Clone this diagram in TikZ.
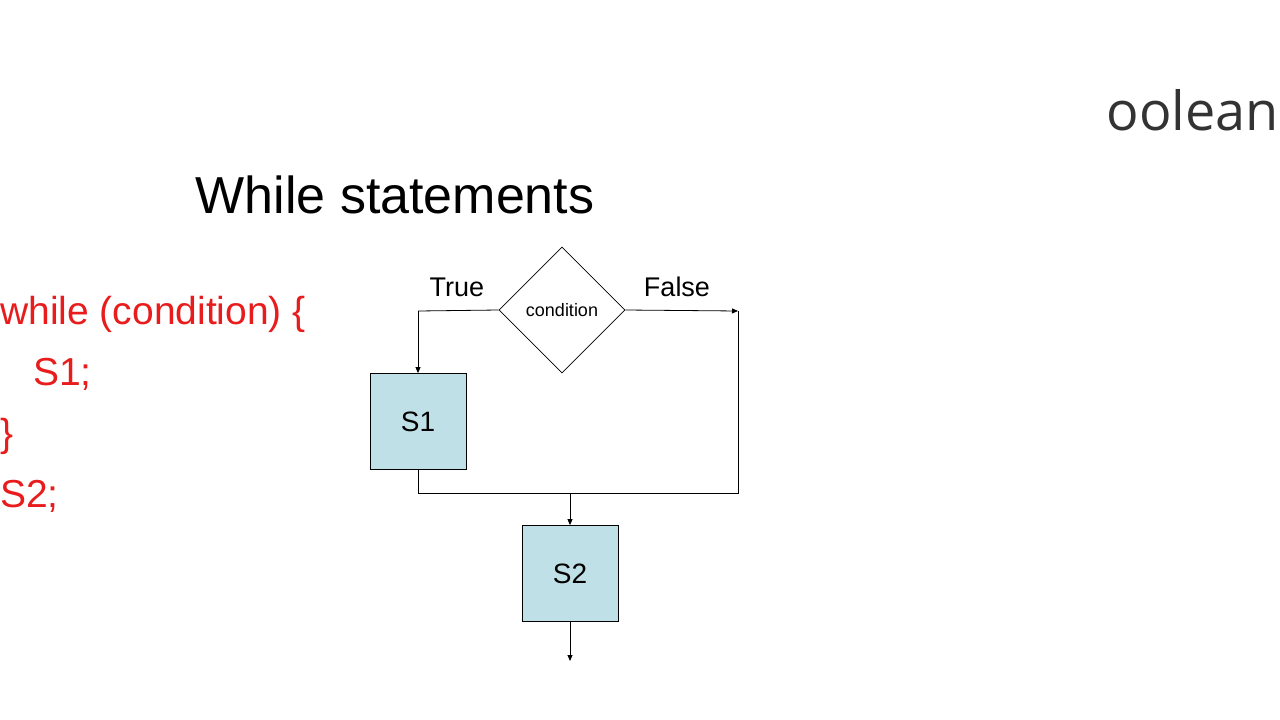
\documentclass[tikz,border=0pt]{standalone}
\usepackage{fontspec}
\setmainfont{Liberation Serif}
\newfontfamily\lsans{Liberation Sans}
\newfontfamily\gsans{Open Sans}
\usetikzlibrary{shapes.geometric,arrows.meta}
\definecolor{boxblue}{HTML}{BEE0E6}
\definecolor{codered}{HTML}{E81C1C}
\begin{document}
\begin{tikzpicture}[x=1pt,y=-1pt,
  line/.style={draw=black,line width=0.8pt},
  arr/.style={line,-{Triangle[length=6pt,width=5pt]}},
  blk/.style={draw=black,line width=0.8pt,fill=boxblue,minimum width=96pt,minimum height=96pt,inner sep=0pt,font=\lsans\fontsize{28}{30}\selectfont},
  code/.style={text=codered,anchor=base west,inner sep=0pt,font=\lsans\fontsize{39}{42}\selectfont},
  lab/.style={font=\lsans\fontsize{27}{30}\selectfont,inner sep=0pt}]
\useasboundingbox (0,0) rectangle (1280,720);
\clip (0,0) rectangle (1280,720);
\node (title) at (395,195) {\lsans\fontsize{52}{56}\selectfont While statements};
\node[anchor=base east,inner sep=0pt,text=black!80] (bool) at (1279,130) {\gsans\fontsize{54}{58}\selectfont oolean};
\node[code] (c1) at (0,324) {while (condition) \{};
\node[code] (c2) at (33,385) {S1;};
\node[code] (c3) at (0,446) {\}};
\node[code] (c4) at (0,507) {S2;};
\node[diamond,draw,line width=0.8pt,minimum width=126pt,minimum height=126pt,inner sep=0pt,font=\lsans\fontsize{18}{20}\selectfont] (d) at (562,310) {condition};
\node[lab] (t) at (457,287) {True};
\node[lab] (f) at (677,287) {False};
\node[blk] (s1) at (418,421.5) {\raisebox{-8pt}{S1}};
\node[blk] (s2) at (570,573.5) {S2};
\coordinate (tl) at (418,311);
\coordinate (fr) at (738,311);
\coordinate (br) at (738,493);
\coordinate (bl) at (418,493);
\coordinate (bm) at (570,493);
\coordinate (end) at (570,661);
\draw[line] (d.west) -- (tl);
\draw[arr] (tl) -- (s1.north);
\draw[arr] (d.east) -- (fr);
\draw[line] (fr) -- (br) -- (bl) -- (s1.south);
\draw[arr] (bm) -- (s2.north);
\draw[arr] (s2.south) -- (end);
\end{tikzpicture}
\end{document}
